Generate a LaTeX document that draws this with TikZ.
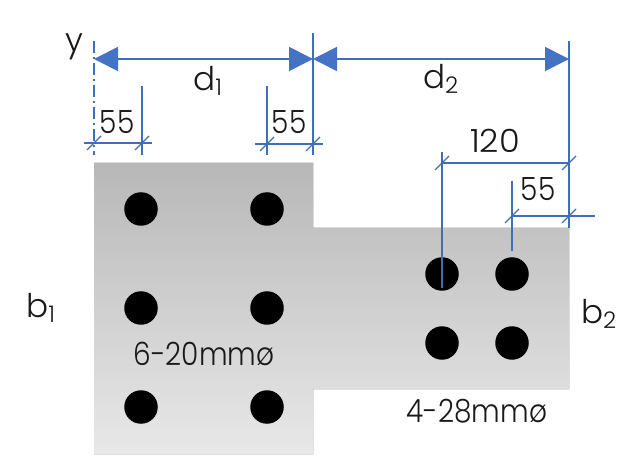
\documentclass[tikz,border=0pt]{standalone}
\usepackage{fontspec}
\setmainfont{Poppins}[UprightFont=* Light]
\definecolor{dimblue}{HTML}{4472C4}
\definecolor{linecol}{HTML}{3F6FB8}
\usetikzlibrary{arrows.meta}
\tikzset{
  dimline/.style={draw=linecol,line width=1.25pt},
  tick/.style={draw=linecol,line width=1pt},
  bar/.style={circle,fill=black,minimum size=33.5*0.75pt,inner sep=0pt},
  lab/.style={font=\fontsize{24}{24}\selectfont,text=black!90,inner sep=0pt,xscale=0.875},
  biglab/.style={font=\fontsize{24.5}{24.5}\selectfont,text=black!90,inner sep=0pt},
  bigboth/.style={dimline,{Triangle[length=18pt,width=18pt,color=dimblue,fill=dimblue]}-{Triangle[length=18pt,width=18pt,color=dimblue,fill=dimblue]}}
}
\begin{document}
\begin{tikzpicture}[x=0.75pt,y=-0.75pt]
\useasboundingbox (0,0) rectangle (639,470);
\fill[top color=black!28,bottom color=black!9,shading angle=0] (94,163) -- (313,163) -- (313,228) -- (569,228) -- (569,389) -- (313,389) -- (313,454) -- (94,454) -- cycle;
\foreach \n/\x/\y in {a/141/209,b/267/209,c/141/308,d/267/308,e/141/407,f/267/407,g/442/274,h/512/274,i/442/343,j/512/343}
  \node[bar] (\n) at (\x,\y) {};
% reference lines
\coordinate (yt) at (94,41); \coordinate (yb) at (94,155);
\draw[dimline,dash pattern=on 9pt off 3pt on 1.5pt off 3pt,line width=1pt] (yt) -- (yb);
\coordinate (m1) at (313,33); \coordinate (m1b) at (313,155);
\draw[dimline] (m1) -- (m1b);
\coordinate (r1) at (569,41); \coordinate (r1b) at (569,228);
\draw[dimline] (r1) -- (r1b);
\coordinate (d1a) at (94,59); \coordinate (d1b) at (313,59); \coordinate (d2b) at (569,59);
\draw[bigboth] (d1a) -- (d1b);
\draw[bigboth] (d1b) -- (d2b);
% 55 left
\coordinate (s1t) at (142,86); \coordinate (s1b) at (142,155);
\draw[dimline] (s1t) -- (s1b);
\coordinate (s2t) at (267,86); \coordinate (s2b) at (267,155);
\draw[dimline] (s2t) -- (s2b);
\coordinate (h1a) at (84,143); \coordinate (h1b) at (152,143);
\draw[dimline] (h1a) -- (h1b);
\coordinate (h2a) at (255,144); \coordinate (h2b) at (323,144);
\draw[dimline] (h2a) -- (h2b);
% 120
\coordinate (t1) at (442,152); \coordinate (t1b) at (442,288);
\draw[dimline] (t1) -- (t1b);
\coordinate (h3a) at (442,163); \coordinate (h3b) at (569,163);
\draw[dimline] (h3a) -- (h3b);
% 55 right
\coordinate (t2) at (512,181); \coordinate (t2b) at (512,251);
\draw[dimline] (t2) -- (t2b);
\coordinate (h4a) at (512,216); \coordinate (h4b) at (595,216);
\draw[dimline] (h4a) -- (h4b);
% ticks
\foreach \x/\y in {94/143,142/143,267/144,313/144,442/163,569/163,512/216,569/216}
  \draw[tick] (\x-7,\y+7) -- (\x+7,\y-7);
% labels
\node[biglab] (ly) at (74,47) {y};
\node[biglab] (ld1) at (208,81) {d\textsubscript{1}};
\node[biglab] (ld2) at (441,79) {d\textsubscript{2}};
\node[lab] (l55a) at (117,122) {55};
\node[lab] (l55b) at (289,122) {55};
\node[lab,xscale=1.2] (l120) at (495,141) {120};
\node[lab] (l55c) at (538,189) {55};
\node[biglab] (lb1) at (41,308) {b\textsubscript{1}};
\node[biglab] (lb2) at (599,314) {b\textsubscript{2}};
\node[lab] (l6) at (204,354) {6-20mmø};
\node[lab] (l4) at (477,411) {4-28mmø};
\end{tikzpicture}
\end{document}
